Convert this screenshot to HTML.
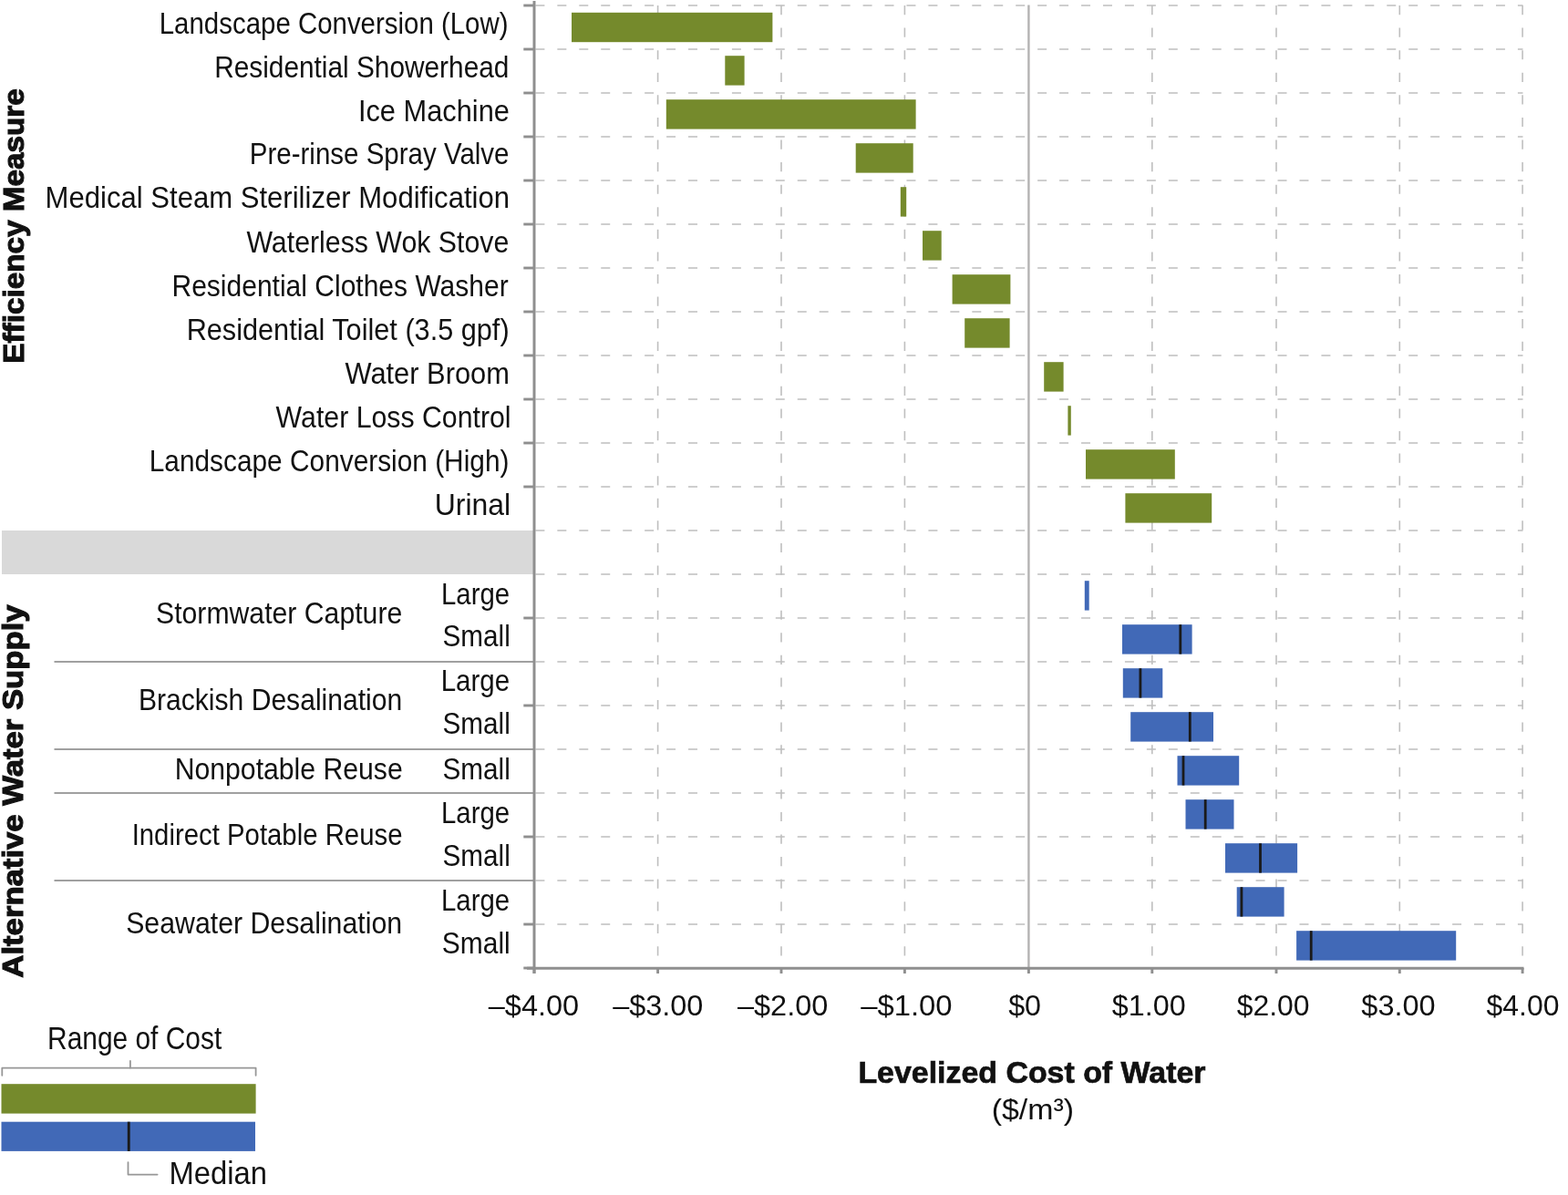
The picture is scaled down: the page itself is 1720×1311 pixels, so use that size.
<!DOCTYPE html><html><head><meta charset="utf-8"><title>Levelized Cost of Water</title>
<style>html,body{margin:0;padding:0;background:#fff;}svg{display:block;}text{font-family:"Liberation Sans",Arial,sans-serif;fill:#111;}.b{font-weight:bold;stroke:#111;stroke-width:0.7px;}.v{stroke-width:1.1px;}</style></head><body>
<svg width="1720" height="1311" viewBox="0 0 1720 1311">
<rect x="0" y="0" width="1720" height="1311" fill="#fff"/>
<rect x="2" y="582.0" width="584" height="48.0" fill="#D9D9D9"/>
<g stroke="#BFBFBF" stroke-width="1.5" stroke-dasharray="10 13.945"><line x1="587.4" y1="6.0" x2="1670.5" y2="6.0"/><line x1="587.4" y1="54.0" x2="1670.5" y2="54.0"/><line x1="587.4" y1="102.0" x2="1670.5" y2="102.0"/><line x1="587.4" y1="150.0" x2="1670.5" y2="150.0"/><line x1="587.4" y1="198.0" x2="1670.5" y2="198.0"/><line x1="587.4" y1="246.0" x2="1670.5" y2="246.0"/><line x1="587.4" y1="294.0" x2="1670.5" y2="294.0"/><line x1="587.4" y1="342.0" x2="1670.5" y2="342.0"/><line x1="587.4" y1="390.0" x2="1670.5" y2="390.0"/><line x1="587.4" y1="438.0" x2="1670.5" y2="438.0"/><line x1="587.4" y1="486.0" x2="1670.5" y2="486.0"/><line x1="587.4" y1="534.0" x2="1670.5" y2="534.0"/><line x1="587.4" y1="582.0" x2="1670.5" y2="582.0"/><line x1="587.4" y1="630.0" x2="1670.5" y2="630.0"/><line x1="587.4" y1="678.0" x2="1670.5" y2="678.0"/><line x1="587.4" y1="726.0" x2="1670.5" y2="726.0"/><line x1="587.4" y1="774.0" x2="1670.5" y2="774.0"/><line x1="587.4" y1="822.0" x2="1670.5" y2="822.0"/><line x1="587.4" y1="870.0" x2="1670.5" y2="870.0"/><line x1="587.4" y1="918.0" x2="1670.5" y2="918.0"/><line x1="587.4" y1="966.0" x2="1670.5" y2="966.0"/><line x1="587.4" y1="1014.0" x2="1670.5" y2="1014.0"/></g>
<g stroke="#BFBFBF" stroke-width="1.6" stroke-dasharray="10.2 14.38"><line x1="721.6" y1="6" x2="721.6" y2="1062"/><line x1="857.0" y1="6" x2="857.0" y2="1062"/><line x1="992.4" y1="6" x2="992.4" y2="1062"/><line x1="1263.8" y1="6" x2="1263.8" y2="1062"/><line x1="1400.0" y1="6" x2="1400.0" y2="1062"/><line x1="1535.3" y1="6" x2="1535.3" y2="1062"/><line x1="1670.1" y1="6" x2="1670.1" y2="1062"/></g>
<line x1="1128.4" y1="5.5" x2="1128.4" y2="1062" stroke="#B4B3B3" stroke-width="2.4"/>
<g stroke="#A0A0A0" stroke-width="1.8"><line x1="59.5" y1="726" x2="586" y2="726"/><line x1="59.5" y1="822" x2="586" y2="822"/><line x1="59.5" y1="870" x2="586" y2="870"/><line x1="59.5" y1="966" x2="586" y2="966"/></g>
<g><rect x="627.0" y="13.8" width="220.4" height="32.4" fill="#758A2C"/><rect x="795.3" y="61.2" width="21.3" height="32.4" fill="#758A2C"/><rect x="730.8" y="109.2" width="273.8" height="32.4" fill="#758A2C"/><rect x="938.7" y="157.2" width="63.0" height="32.4" fill="#758A2C"/><rect x="987.8" y="205.2" width="6.4" height="32.4" fill="#758A2C"/><rect x="1012.0" y="253.2" width="20.7" height="32.4" fill="#758A2C"/><rect x="1044.6" y="301.2" width="63.8" height="32.4" fill="#758A2C"/><rect x="1058.2" y="349.2" width="49.4" height="32.4" fill="#758A2C"/><rect x="1145.2" y="397.2" width="21.4" height="32.4" fill="#758A2C"/><rect x="1171.4" y="445.2" width="3.4" height="32.4" fill="#758A2C"/><rect x="1191.0" y="493.2" width="97.8" height="32.4" fill="#758A2C"/><rect x="1234.4" y="541.2" width="94.8" height="32.4" fill="#758A2C"/><rect x="1189.8" y="637.2" width="4.9" height="32.4" fill="#4169B7"/><rect x="1231.0" y="685.2" width="76.6" height="32.4" fill="#4169B7"/><rect x="1231.8" y="733.2" width="43.5" height="32.4" fill="#4169B7"/><rect x="1240.2" y="781.2" width="90.8" height="32.4" fill="#4169B7"/><rect x="1291.5" y="829.2" width="67.7" height="32.4" fill="#4169B7"/><rect x="1300.5" y="877.2" width="53.0" height="32.4" fill="#4169B7"/><rect x="1344.0" y="925.2" width="79.1" height="32.4" fill="#4169B7"/><rect x="1356.7" y="973.2" width="51.9" height="32.4" fill="#4169B7"/><rect x="1422.1" y="1021.2" width="175.1" height="32.4" fill="#4169B7"/></g>
<g fill="#1a1a1a"><rect x="1293.4" y="685.2" width="2.8" height="32.4"/><rect x="1249.5" y="733.2" width="2.8" height="32.4"/><rect x="1303.9" y="781.2" width="2.8" height="32.4"/><rect x="1296.6" y="829.2" width="2.8" height="32.4"/><rect x="1320.8" y="877.2" width="2.8" height="32.4"/><rect x="1381.1" y="925.2" width="2.8" height="32.4"/><rect x="1360.5" y="973.2" width="2.8" height="32.4"/><rect x="1436.8" y="1021.2" width="2.8" height="32.4"/></g>
<line x1="586" y1="1" x2="586" y2="1068" stroke="#8F8F8F" stroke-width="3"/>
<line x1="578" y1="1062.2" x2="1671.5" y2="1062.2" stroke="#8F8F8F" stroke-width="3"/>
<g stroke="#8F8F8F" stroke-width="2.9"><line x1="574.3" y1="6.0" x2="586" y2="6.0"/><line x1="574.3" y1="54.0" x2="586" y2="54.0"/><line x1="574.3" y1="102.0" x2="586" y2="102.0"/><line x1="574.3" y1="150.0" x2="586" y2="150.0"/><line x1="574.3" y1="198.0" x2="586" y2="198.0"/><line x1="574.3" y1="246.0" x2="586" y2="246.0"/><line x1="574.3" y1="294.0" x2="586" y2="294.0"/><line x1="574.3" y1="342.0" x2="586" y2="342.0"/><line x1="574.3" y1="390.0" x2="586" y2="390.0"/><line x1="574.3" y1="438.0" x2="586" y2="438.0"/><line x1="574.3" y1="486.0" x2="586" y2="486.0"/><line x1="574.3" y1="534.0" x2="586" y2="534.0"/><line x1="574.3" y1="678.0" x2="586" y2="678.0"/><line x1="574.3" y1="774.0" x2="586" y2="774.0"/><line x1="574.3" y1="918.0" x2="586" y2="918.0"/><line x1="574.3" y1="1014.0" x2="586" y2="1014.0"/><line x1="574.3" y1="1062.0" x2="586" y2="1062.0"/><line x1="586.0" y1="1062" x2="586.0" y2="1068"/><line x1="721.6" y1="1062" x2="721.6" y2="1068"/><line x1="857.0" y1="1062" x2="857.0" y2="1068"/><line x1="992.4" y1="1062" x2="992.4" y2="1068"/><line x1="1128.4" y1="1062" x2="1128.4" y2="1068"/><line x1="1263.8" y1="1062" x2="1263.8" y2="1068"/><line x1="1400.0" y1="1062" x2="1400.0" y2="1068"/><line x1="1535.3" y1="1062" x2="1535.3" y2="1068"/><line x1="1670.1" y1="1062" x2="1670.1" y2="1068"/></g>
<g stroke="#979797" stroke-width="1.8" fill="none" stroke-linejoin="round" stroke-linecap="round"><path d="M2.3,1179.8 V1171.6 H280.6 V1179.8"/><path d="M142.9,1163.8 V1171.6"/><path d="M140.5,1275.2 V1288.6 H172.6"/></g>
<rect x="1.5" y="1189.2" width="279.1" height="32.4" fill="#758A2C"/>
<rect x="1.5" y="1230.7" width="278.5" height="32.2" fill="#4169B7"/>
<rect x="139.8" y="1230.7" width="2.9" height="32.2" fill="#1a1a1a"/>
<text x="174.75" y="36.60" font-size="33.87" textLength="382.78" lengthAdjust="spacingAndGlyphs">Landscape Conversion (Low)</text>
<text x="235.15" y="84.50" font-size="33.87" textLength="323.26" lengthAdjust="spacingAndGlyphs">Residential Showerhead</text>
<text x="392.92" y="132.60" font-size="33.87" textLength="166.07" lengthAdjust="spacingAndGlyphs">Ice Machine</text>
<text x="273.77" y="180.30" font-size="33.87" textLength="284.74" lengthAdjust="spacingAndGlyphs">Pre-rinse Spray Valve</text>
<text x="49.61" y="228.40" font-size="33.87" textLength="509.42" lengthAdjust="spacingAndGlyphs">Medical Steam Sterilizer Modification</text>
<text x="270.42" y="277.00" font-size="33.87" textLength="287.87" lengthAdjust="spacingAndGlyphs">Waterless Wok Stove</text>
<text x="188.49" y="325.00" font-size="33.87" textLength="369.18" lengthAdjust="spacingAndGlyphs">Residential Clothes Washer</text>
<text x="204.64" y="373.00" font-size="33.87" textLength="353.97" lengthAdjust="spacingAndGlyphs">Residential Toilet (3.5 gpf)</text>
<text x="378.43" y="421.30" font-size="33.87" textLength="180.51" lengthAdjust="spacingAndGlyphs">Water Broom</text>
<text x="302.61" y="469.20" font-size="33.87" textLength="257.97" lengthAdjust="spacingAndGlyphs">Water Loss Control</text>
<text x="163.74" y="516.90" font-size="33.87" textLength="394.68" lengthAdjust="spacingAndGlyphs">Landscape Conversion (High)</text>
<text x="476.78" y="565.40" font-size="33.87" textLength="83.43" lengthAdjust="spacingAndGlyphs">Urinal</text>
<text x="170.99" y="683.60" font-size="33.87" textLength="270.25" lengthAdjust="spacingAndGlyphs">Stormwater Capture</text>
<text x="151.95" y="779.10" font-size="33.87" textLength="289.30" lengthAdjust="spacingAndGlyphs">Brackish Desalination</text>
<text x="191.71" y="855.30" font-size="33.87" textLength="250.03" lengthAdjust="spacingAndGlyphs">Nonpotable Reuse</text>
<text x="144.64" y="927.30" font-size="33.87" textLength="296.85" lengthAdjust="spacingAndGlyphs">Indirect Potable Reuse</text>
<text x="138.18" y="1023.60" font-size="33.87" textLength="302.93" lengthAdjust="spacingAndGlyphs">Seawater Desalination</text>
<text x="483.97" y="662.70" font-size="33.87" textLength="75.10" lengthAdjust="spacingAndGlyphs">Large</text>
<text x="485.45" y="709.30" font-size="33.87" textLength="74.32" lengthAdjust="spacingAndGlyphs">Small</text>
<text x="483.64" y="758.20" font-size="33.87" textLength="75.45" lengthAdjust="spacingAndGlyphs">Large</text>
<text x="485.44" y="804.80" font-size="33.87" textLength="74.33" lengthAdjust="spacingAndGlyphs">Small</text>
<text x="485.45" y="855.30" font-size="33.87" textLength="74.32" lengthAdjust="spacingAndGlyphs">Small</text>
<text x="483.97" y="903.20" font-size="33.87" textLength="75.10" lengthAdjust="spacingAndGlyphs">Large</text>
<text x="485.45" y="949.50" font-size="33.87" textLength="74.32" lengthAdjust="spacingAndGlyphs">Small</text>
<text x="484.00" y="999.20" font-size="33.87" textLength="75.08" lengthAdjust="spacingAndGlyphs">Large</text>
<text x="484.77" y="1046.30" font-size="33.87" textLength="75.02" lengthAdjust="spacingAndGlyphs">Small</text>
<text x="535.79" y="1114.00" font-size="31.78" textLength="99.33" lengthAdjust="spacingAndGlyphs">–$4.00</text>
<text x="672.20" y="1114.00" font-size="31.78" textLength="99.12" lengthAdjust="spacingAndGlyphs">–$3.00</text>
<text x="808.99" y="1114.00" font-size="31.78" textLength="99.32" lengthAdjust="spacingAndGlyphs">–$2.00</text>
<text x="944.19" y="1114.00" font-size="31.78" textLength="100.46" lengthAdjust="spacingAndGlyphs">–$1.00</text>
<text x="1106.18" y="1114.00" font-size="31.78" textLength="35.89" lengthAdjust="spacingAndGlyphs">$0</text>
<text x="1219.78" y="1114.00" font-size="31.78" textLength="80.84" lengthAdjust="spacingAndGlyphs">$1.00</text>
<text x="1356.79" y="1114.00" font-size="31.78" textLength="79.82" lengthAdjust="spacingAndGlyphs">$2.00</text>
<text x="1493.38" y="1114.00" font-size="31.78" textLength="81.26" lengthAdjust="spacingAndGlyphs">$3.00</text>
<text x="1630.60" y="1114.00" font-size="31.78" textLength="79.91" lengthAdjust="spacingAndGlyphs">$4.00</text>
<text class="b" x="941.40" y="1188.10" font-size="33.87" textLength="381.08" lengthAdjust="spacingAndGlyphs">Levelized Cost of Water</text>
<text x="1087.68" y="1228.00" font-size="31.98" textLength="90.41" lengthAdjust="spacingAndGlyphs">($/m³)</text>
<text x="52.04" y="1150.60" font-size="34.74" textLength="191.22" lengthAdjust="spacingAndGlyphs">Range of Cost</text>
<text x="185.46" y="1299.40" font-size="35.61" textLength="107.54" lengthAdjust="spacingAndGlyphs">Median</text>
<text class="b v" x="26.00" y="398.68" font-size="31.98" textLength="301.33" lengthAdjust="spacingAndGlyphs" transform="rotate(-90 26.00 398.68)">Efficiency Measure</text>
<text class="b v" x="25.00" y="1072.64" font-size="31.98" textLength="409.22" lengthAdjust="spacingAndGlyphs" transform="rotate(-90 25.00 1072.64)">Alternative Water Supply</text>
</svg></body></html>
